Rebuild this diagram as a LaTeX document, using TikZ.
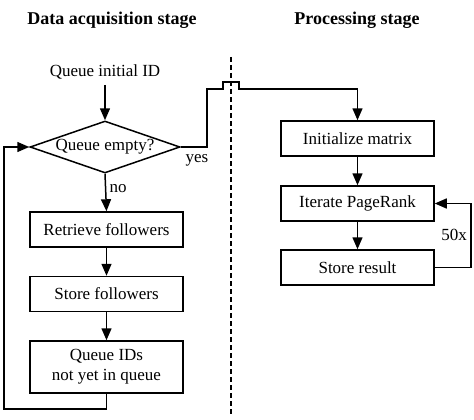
\documentclass[tikz,border=0pt]{standalone}
\usepackage{fontspec}
\setmainfont{Liberation Serif}
\usetikzlibrary{shapes.geometric,arrows.meta}
\begin{document}
\begin{tikzpicture}[x=1pt,y=-1pt,
  txt/.style={font=\fontsize{17}{20}\selectfont},
  ttl/.style={font=\fontsize{18}{21}\selectfont\bfseries},
  box/.style={draw,line width=1.5pt,minimum width=153pt,minimum height=35pt,inner sep=0pt,align=center,txt},
  dec/.style={draw,line width=1.5pt,diamond,shape aspect=2.885,minimum width=150pt,minimum height=52pt,inner sep=0pt,txt},
  conn/.style={line width=1.5pt},
  arr/.style={conn,-{Triangle[length=12pt,width=10pt]}},
  sep/.style={line width=1.5pt,dash pattern=on 5pt off 3pt}]
\useasboundingbox (0,0) rectangle (474,420);
\node[ttl] (t1) at (112,20) {Data acquisition stage};
\node[ttl] (t2) at (357,20) {Processing stage};
\coordinate (d1) at (231,57);
\coordinate (d2) at (231,416);
\draw[sep] (d1) -- (d2);

\node[txt] (start) at (105,72) {Queue initial ID};
\node[dec] (dec) at (105,147) {Queue empty?};
\node[box] (retr) at (106.5,229.5) {Retrieve followers};
\node[box] (storef) at (106.5,294) {Store followers};
\node[box,minimum height=52pt] (queue) at (106.5,367) {Queue IDs\\not yet in queue};

\node[box] (init) at (357.5,138.5) {Initialize matrix};
\node[box] (iter) at (357.5,203.5) {Iterate PageRank};
\node[box] (storer) at (357.5,267.5) {Store result};

\coordinate (s0) at (105,85);
\draw[arr] (s0) -- (dec.north);
\draw[arr] (dec.south) -- node[txt,right,pos=0.4] (no) {no} (retr.north);
\draw[arr] (retr) -- (storef);
\draw[arr] (storef) -- (queue);
\coordinate (l1) at (106.5,409);
\coordinate (l2) at (4,409);
\coordinate (l3) at (4,147);
\draw[arr] (queue.south) -- (l1) -- (l2) -- (l3) -- (dec.west);

\node[txt] (yes) at (197,160) {yes};
\coordinate (h1) at (207,147);
\coordinate (h2) at (207,89);
\coordinate (h3) at (223,89);
\coordinate (h4) at (223,82);
\coordinate (h5) at (239,82);
\coordinate (h6) at (239,89);
\coordinate (h7) at (357.5,89);
\draw[arr] (dec.east) -- (h1) -- (h2) -- (h3) -- (h4) -- (h5) -- (h6) -- (h7) -- (init.north);

\draw[arr] (init) -- (iter);
\draw[arr] (iter) -- (storer);
\coordinate (r1) at (471,267.5);
\coordinate (r2) at (471,203.5);
\draw[arr] (storer.east) -- (r1) -- (r2) -- (iter.east);
\node[txt] (fifty) at (454,235) {50x};
\end{tikzpicture}
\end{document}
